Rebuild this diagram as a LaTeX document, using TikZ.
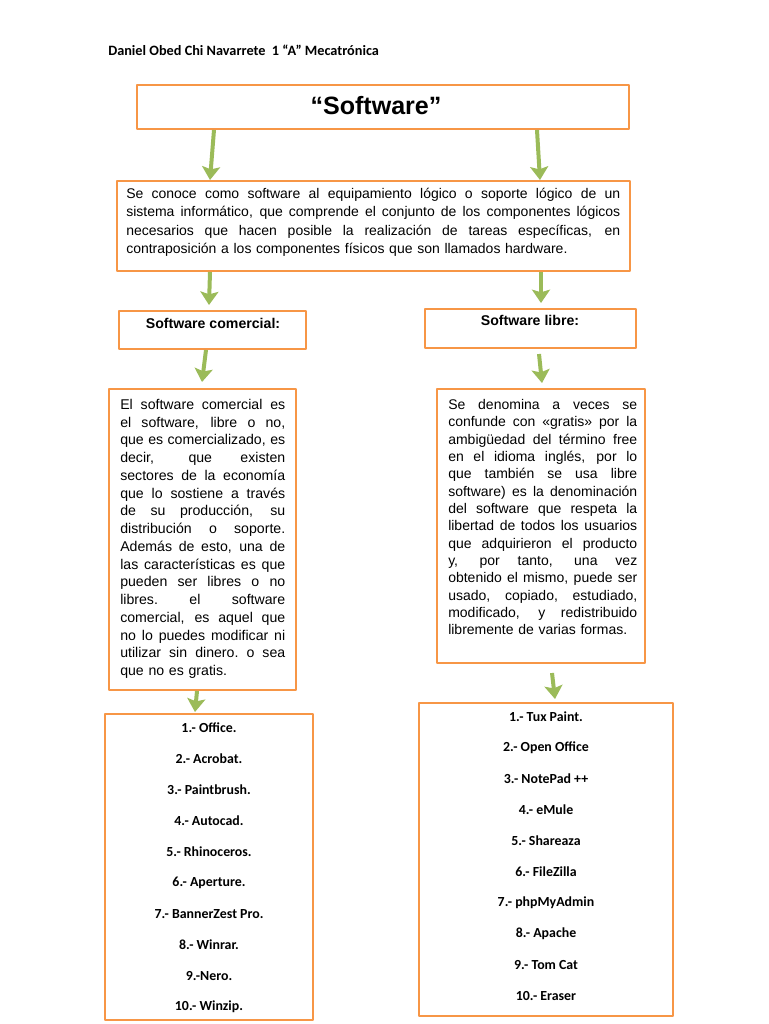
\documentclass[tikz,border=0pt]{standalone}
\usepackage{fontspec}
\setmainfont{Liberation Sans}
\newfontfamily\calfont{Carlito}
\usetikzlibrary{arrows.meta,calc,fit}
\definecolor{boxorange}{RGB}{247,150,70}
\definecolor{arrowgreen}{RGB}{155,187,89}
\newcommand{\jline}[1]{\hbox to \hsize{\spaceskip=0.278em plus 1fil\xspaceskip=\spaceskip #1}}

\begin{document}
\begin{tikzpicture}[x=0.75pt,y=-0.75pt,line cap=round,line join=round,
  box/.style={draw=boxorange,line width=1.5pt,inner sep=0pt},
  arr/.style={draw=arrowgreen,line width=3pt,line cap=butt,-{Stealth[width=13.5pt,length=10pt,inset=2pt]}},
  desc/.style={anchor=north west,inner sep=0pt},
  item/.style={font=\calfont\bfseries\fontsize{10.4}{12}\selectfont,inner sep=0pt}]
  \useasboundingbox (0,0) rectangle (768,1024);
  \node[anchor=west,inner sep=0pt,font=\calfont\bfseries\fontsize{10.7}{12}\selectfont] (author) at (108,50) {Daniel Obed Chi Navarrete\ \ 1 “A” Mecatrónica};
  \node[box,fit={(137,85) (629,129)}] (title) {};
  \node[inner sep=0pt,font=\bfseries\fontsize{18.8}{22}\selectfont] (titletext) at (376,106) {“Software”};
  \node[box,fit={(117,181) (630,271)}] (def) {};
  \node[box,fit={(119,311) (306,349)}] (com) {};
  \node[box,fit={(425,309) (636,348)}] (lib) {};
  \node[box,fit={(109,389) (296,690)}] (comd) {};
  \node[box,fit={(437,389) (645,663)}] (libd) {};
  \node[box,fit={(105,714) (313,1020)}] (coml) {};
  \node[box,fit={(419,703) (673,1016)}] (libl) {};
  \node[desc,text width=370.5pt,font=\fontsize{10.5}{13.7}\selectfont] (deftext) at (126,188) {%
    \jline{Se conoce como software al equipamiento lógico o soporte lógico de un}
    \jline{sistema informático, que comprende el conjunto de los componentes lógicos}
    \jline{necesarios que hacen posible la realización de tareas específicas, en}
    \hbox{contraposición a los componentes físicos que son llamados hardware.}};
  \node[inner sep=0pt,font=\bfseries\fontsize{10.6}{12}\selectfont] (comlabel) at (213,323) {Software comercial:};
  \node[inner sep=0pt,font=\bfseries\fontsize{10.6}{12}\selectfont] (liblabel) at (530,320) {Software libre:};
  \node[desc,text width=123.75pt,font=\fontsize{10.6}{13.3}\selectfont] (comtext) at (120,399) {%
    \jline{El software comercial es}
    \jline{el software, libre o no,}
    \jline{que es comercializado, es}
    \jline{decir, que existen}
    \jline{sectores de la economía}
    \jline{que lo sostiene a través}
    \jline{de su producción, su}
    \jline{distribución o soporte.}
    \jline{Además de esto, una de}
    \jline{las características es que}
    \jline{pueden ser libres o no}
    \jline{libres. el software}
    \jline{comercial, es aquel que}
    \jline{no lo puedes modificar ni}
    \jline{utilizar sin dinero. o sea}
    \kern3.5pt
    \hbox{que no es gratis.}};
  \node[desc,text width=141.75pt,font=\fontsize{10.5}{13}\selectfont] (libtext) at (448,399) {%
    \jline{Se denomina a veces se}
    \jline{confunde con «gratis» por la}
    \jline{ambigüedad del término free}
    \jline{en el idioma inglés, por lo}
    \jline{que también se usa libre}
    \jline{software) es la denominación}
    \jline{del software que respeta la}
    \jline{libertad de todos los usuarios}
    \jline{que adquirieron el producto}
    \jline{y, por tanto, una vez}
    \jline{obtenido el mismo, puede ser}
    \jline{usado, copiado, estudiado,}
    \jline{modificado, y redistribuido}
    \hbox{libremente de varias formas.}};
  \node[item] (c1) at (209,728) {1.- Office.};
  \node[item] (c2) at (209,759) {2.- Acrobat.};
  \node[item] (c3) at (209,790) {3.- Paintbrush.};
  \node[item] (c4) at (209,821) {4.- Autocad.};
  \node[item] (c5) at (209,852) {5.- Rhinoceros.};
  \node[item] (c6) at (209,883) {6.- Aperture.};
  \node[item] (c7) at (209,914) {7.- BannerZest Pro.};
  \node[item] (c8) at (209,945) {8.- Winrar.};
  \node[item] (c9) at (209,976) {9.-Nero.};
  \node[item] (c10) at (209,1007) {10.- Winzip.};
  \node[item] (l1) at (546,717) {1.- Tux Paint.};
  \node[item] (l2) at (546,748) {2.- Open Office};
  \node[item] (l3) at (546,779) {3.- NotePad ++};
  \node[item] (l4) at (546,810) {4.- eMule};
  \node[item] (l5) at (546,841) {5.- Shareaza};
  \node[item] (l6) at (546,872) {6.- FileZilla};
  \node[item] (l7) at (546,903) {7.- phpMyAdmin};
  \node[item] (l8) at (546,934) {8.- Apache};
  \node[item] (l9) at (546,965) {9.- Tom Cat};
  \node[item] (l10) at (546,996) {10.- Eraser};
  \draw[arr] ($(title.south west)+(78,0)$) -- ($(def.north west)+(94,0)$);
  \draw[arr] ($(title.south west)+(401,0)$) -- ($(def.north west)+(424,0)$);
  \draw[arr] ($(def.south west)+(94,0)$) -- ($(com.north west)+(91,-5)$);
  \draw[arr] ($(def.south west)+(425,0)$) -- ($(lib.north west)+(117,-5)$);
  \draw[arr] ($(com.south west)+(88,0)$) -- ($(comd.north west)+(94,-6)$);
  \draw[arr] ($(lib.south west)+(115,5)$) -- ($(libd.north west)+(106,-5)$);
  \draw[arr] ($(comd.south west)+(89,0)$) -- ($(coml.north west)+(91,-1)$);
  \draw[arr] ($(libd.south west)+(116,9)$) -- ($(libl.north west)+(137,-3)$);
\end{tikzpicture}
\end{document}
